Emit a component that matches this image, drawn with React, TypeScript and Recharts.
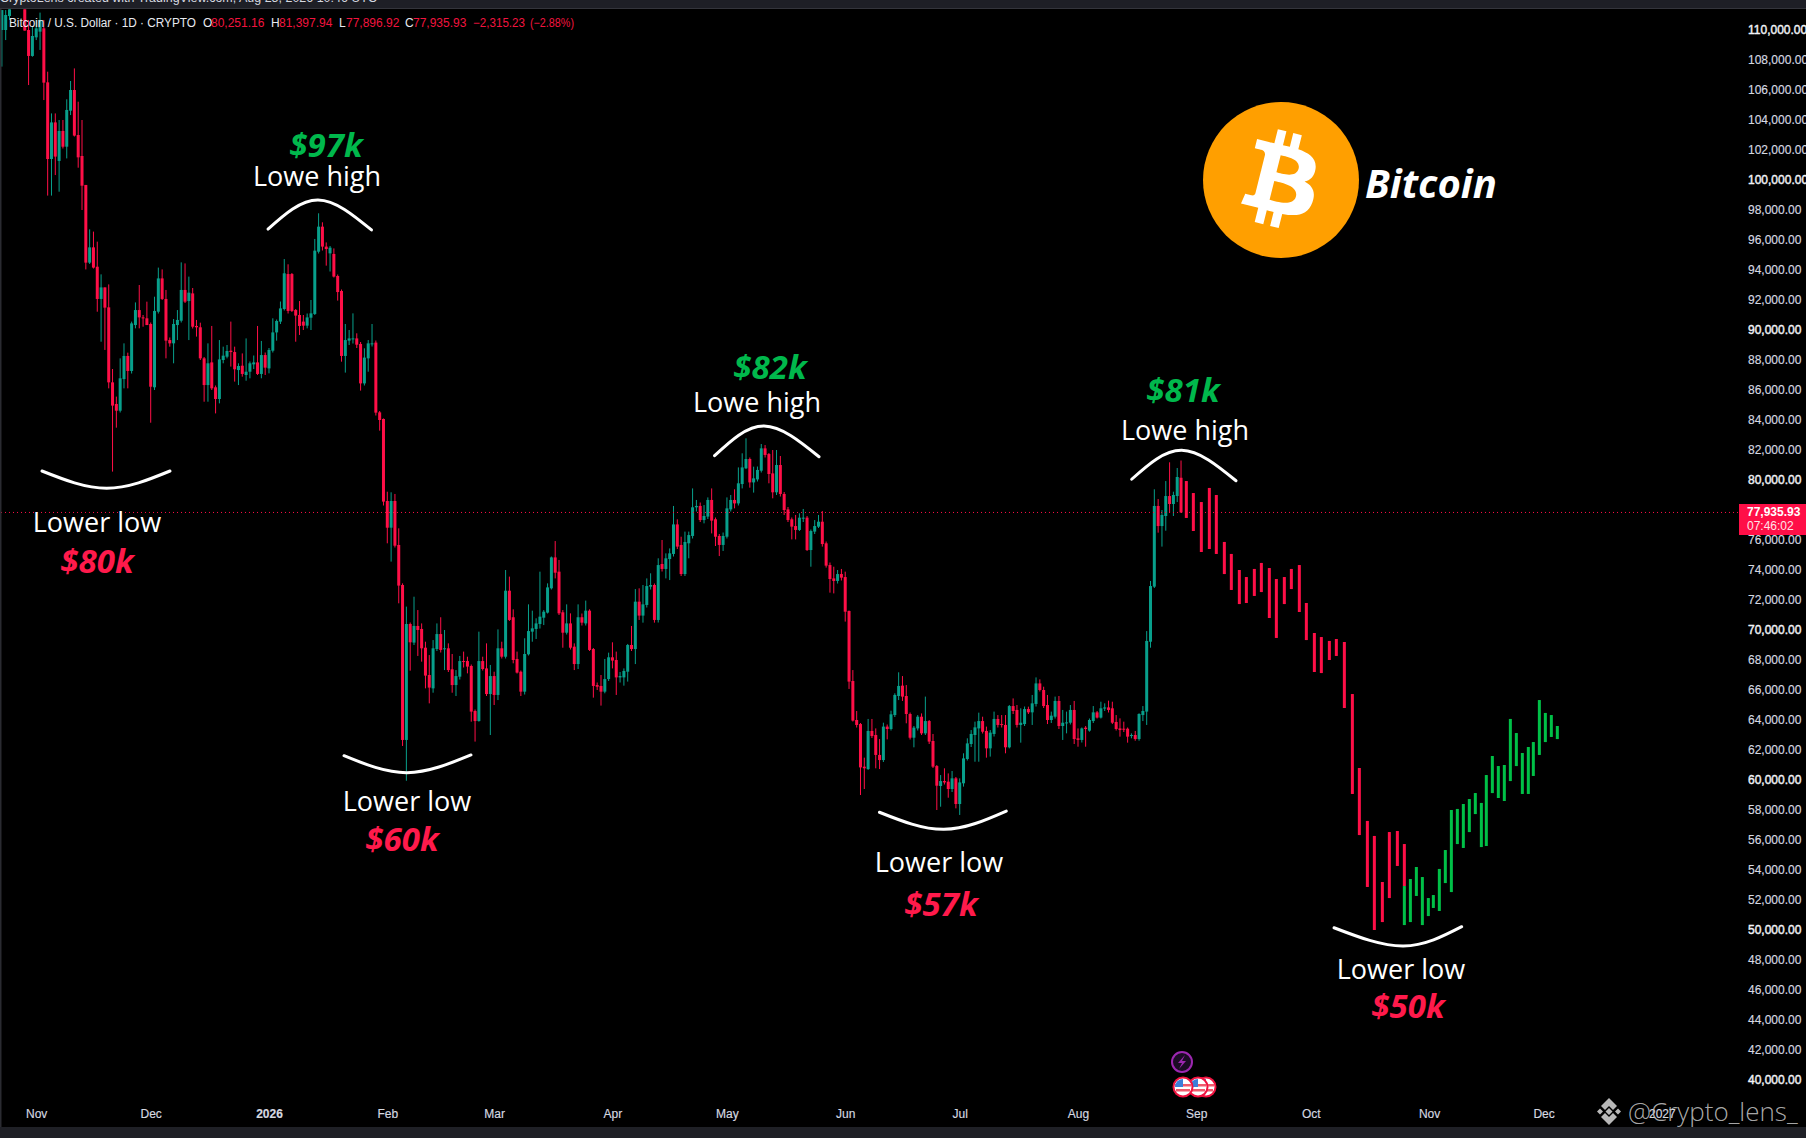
import { Bar, ComposedChart, Line, ReferenceLine, XAxis, YAxis } from 'recharts'

const WIDTH = 1806
const HEIGHT = 1138
const UP = '#089f8b'
const DOWN = '#ff0f47'
const BAR_UP = '#00c047'
const BODY_WIDTH = 3
const FONT = '"Liberation Sans", Arial, sans-serif'
const CALLOUT_FONT = '"Open Sans", sans-serif'

// thousands of dollars, [open, high, low, close], one candle a day
// null = candle is above the top of the visible price range
const FIRST_DAY = -70 // days from 1 Jan 2026
const candlesOctNov = [
  [110.1,111.43,107.66,111.43],[110.1,111.43,109.43,111.1],[111.03,111.48,110.77,111.48],null,null,null,
  [111.48,111.48,110.06,110.06],[110.1,110.77,106.43,108.37],[108.37,110.32,108.32,109.7],[109.61,110.77,109.43,110.21],
  [109.99,111.26,108.77,110.77],[110.21,110.77,105.43,106.59],[106.61,107.32,99.06,101.5],[101.5,104.54,99.06,103.94],
  [103.94,104.54,100.43,101.66],[101.37,104.1,99.32,103.37],[103.37,104.1,102.2,102.32],[102.32,105.48,101.54,104.77],
  [104.72,106.7,104.43,106.1],[106.1,107.54,103.0,103.06],[103.1,105.32,100.92,101.61],[101.7,104.1,98.1,99.72],
  [99.77,99.77,94.14,94.59],[94.59,96.81,94.5,95.61],[95.61,96.66,94.2,94.26],[94.32,95.99,91.32,92.17],
  [92.17,93.81,89.32,92.94],[92.94,92.94,88.77,91.59],[91.61,93.14,86.21,86.61],[86.61,87.5,80.66,85.06],
  [85.17,85.66,83.59,84.72],[84.72,88.21,84.6,86.88],[86.83,89.21,86.21,88.37],[88.37,88.59,86.21,87.37],
  [87.37,90.66,87.2,90.54],[90.43,91.94,90.21,91.43],[91.43,93.1,90.21,90.94],[90.94,91.1,90.32,90.88],
  [90.88,91.99,90.43,90.43],[90.5,90.6,83.92,86.32],[86.28,92.32,86.1,91.37],[91.32,94.26,91.2,93.54],
  [93.54,94.14,92.1,92.17],[92.17,92.77,88.21,89.39],[89.43,89.6,88.99,89.21],[89.21,90.83,87.88,90.5],
  [90.43,91.43,89.43,90.77],[90.72,94.61,90.6,92.77],[92.77,94.54,91.9,91.99],[92.03,93.66,89.43,92.59],
  [92.54,92.9,90.2,90.32],[90.37,90.77,89.66,90.28],[90.28,90.59,88.1,88.21],[88.21,88.3,85.32,86.43],
  [86.43,89.21,85.32,87.88],[87.94,90.37,86.1,86.21],[86.28,86.4,84.54,85.5],[85.5,89.43,85.21,88.14],
  [88.1,88.99,87.88,88.39],[88.32,89.1,88.21,88.7],[88.72,90.66,87.66,88.63],[88.63,88.99,86.66,87.48],
  [87.43,87.88,86.43,87.7],[87.72,88.54,86.99,87.17],[87.1,89.54,86.72,87.32],[87.32,88.0,86.88,87.88],
  [87.81,88.4,87.5,87.94],[87.94,90.37,87.1,87.17],[87.17,89.37,86.88,88.43],[88.43,88.6,87.1,87.59],
]
const candlesJanFeb = [
  [87.54,88.9,87.21,88.77],[88.72,90.88,88.6,89.94],[89.94,90.8,89.39,90.7],[90.66,92.0,90.5,91.54],
  [91.5,94.83,91.4,93.88],[93.83,94.48,91.2,91.37],[93.83,93.9,91.3,91.37],[91.43,91.5,89.32,91.06],
  [91.1,92.03,89.77,90.37],[90.66,91.1,90.1,90.39],[90.39,91.2,90.21,90.94],[90.92,92.1,90.1,91.21],
  [91.17,96.17,91.1,95.39],[95.32,97.88,95.2,96.99],[96.99,97.28,95.4,95.66],[95.66,95.94,94.39,95.5],
  [95.21,95.7,94.0,95.59],[95.17,95.54,93.6,93.66],[93.7,93.8,92.06,92.63],[92.7,92.8,87.99,88.37],
  [88.37,90.5,87.26,89.43],[89.39,90.1,89.1,89.54],[89.5,91.21,89.2,89.54],[89.54,89.88,88.9,89.12],
  [89.17,89.3,86.06,86.54],[86.54,88.88,86.4,88.26],[88.21,89.43,87.32,89.21],[89.17,90.5,89.0,89.21],
  [89.26,89.4,84.4,84.59],[84.61,84.7,83.39,84.1],[84.17,84.2,78.4,78.66],[78.7,79.32,75.88,76.92],
  [76.92,79.28,74.66,78.7],[78.7,79.17,75.6,75.72],[75.77,76.88,71.88,73.06],[73.1,73.21,62.37,62.77],
  [62.77,71.66,60.05,70.5],[70.5,70.6,67.39,69.28],[69.26,72.32,69.1,70.37],[70.37,71.43,68.37,70.1],
  [70.17,70.54,67.99,68.88],[68.92,69.32,66.21,67.06],[67.1,68.43,65.21,66.26],[66.21,69.43,65.92,68.88],
  [68.83,70.54,68.7,69.83],[69.83,70.95,68.6,68.77],[68.83,70.1,67.43,68.88],[68.88,69.21,67.3,67.43],
  [67.48,68.5,65.92,66.43],[66.43,67.43,65.7,67.03],[66.99,68.37,66.8,68.03],[68.03,68.66,67.6,67.99],
  [68.03,68.32,67.21,67.66],[67.7,67.8,63.99,64.66],[64.7,64.8,62.66,64.03],[64.03,69.99,63.99,68.03],
  [68.03,68.32,67.4,67.5],[67.54,69.21,65.7,65.83],[65.83,67.77,63.1,67.03],[67.03,67.32,65.1,65.77],
  [65.77,70.14,65.43,68.88],[68.88,69.32,68.2,68.32],
]
const candlesMarApr = [
  [68.32,74.1,68.2,72.72],[72.72,73.66,70.7,70.77],[70.95,71.48,67.88,68.1],[68.17,68.66,67.2,67.26],
  [67.32,67.4,65.7,65.99],[65.99,69.55,65.8,68.5],[68.48,71.81,68.4,70.03],[69.99,71.39,69.32,70.21],
  [70.17,70.88,69.5,70.54],[70.5,73.99,70.2,70.99],[70.92,71.43,70.43,71.32],[71.26,73.21,71.2,72.94],
  [72.88,75.0,72.8,74.94],[74.94,76.03,73.54,73.92],[73.99,74.77,71.1,71.21],[71.28,71.43,68.92,69.92],
  [69.92,71.81,69.8,70.54],[70.54,71.21,68.8,68.92],[68.99,69.21,67.43,67.83],[67.83,71.81,67.5,70.95],
  [70.95,71.2,70.4,70.59],[70.54,72.06,70.4,71.39],[71.39,71.48,68.7,68.77],[68.83,68.9,65.59,66.37],
  [66.43,66.6,66.1,66.32],[66.37,67.1,65.06,65.99],[65.99,68.17,65.88,66.83],[66.83,68.59,66.7,68.28],
  [68.28,69.28,67.54,68.06],[68.1,68.66,65.77,66.94],[66.94,67.3,66.6,67.03],[66.94,67.54,66.39,67.37],
  [67.32,69.17,66.66,69.1],[69.1,70.37,68.7,68.83],[68.83,72.83,67.83,71.99],[71.99,72.88,70.77,71.06],
  [71.06,73.1,70.59,71.81],[71.77,73.54,71.6,73.03],[72.99,73.88,72.8,73.1],[73.1,73.2,70.59,70.77],
  [70.77,74.88,70.6,74.43],[74.5,76.1,74.0,74.17],[74.17,75.21,73.54,74.88],[74.83,75.54,73.43,75.21],
  [75.17,78.37,75.0,77.14],[77.14,77.48,75.5,75.66],[75.77,76.32,73.7,73.83],[73.83,76.66,73.7,75.97],
  [75.88,76.66,74.88,76.43],[76.37,79.54,76.2,78.28],[78.28,78.77,78.0,78.37],[78.37,78.6,77.3,77.43],
  [77.43,78.43,77.21,77.7],[77.66,78.94,77.5,78.77],[78.77,79.54,76.54,77.39],[77.48,77.6,75.7,76.32],
  [76.37,76.5,75.03,75.77],[75.77,76.6,75.37,76.37],[76.32,78.94,76.2,78.21],[78.14,79.1,78.0,78.77],
]
const candlesMayJun = [
  [78.77,79.48,78.21,78.54],[78.54,80.94,78.4,79.88],[79.83,81.88,79.54,80.94],[80.88,82.88,80.83,81.5],
  [81.5,81.6,79.59,79.94],[79.94,80.99,79.26,80.21],[80.14,81.0,80.0,80.77],[80.72,82.5,80.6,82.21],
  [82.21,82.43,81.6,81.77],[81.83,81.9,79.88,80.5],[80.54,82.1,78.88,79.28],[79.28,82.1,79.1,81.1],
  [81.1,81.7,79.0,79.17],[79.17,79.3,77.77,78.1],[78.14,78.3,77.3,77.43],[77.48,77.6,76.14,76.99],
  [77.03,77.77,76.14,76.77],[76.77,77.88,76.7,77.59],[77.52,78.17,77.3,77.59],[77.59,77.7,75.37,75.43],
  [75.43,76.8,74.32,76.7],[76.66,77.43,76.5,77.03],[76.99,77.77,76.9,77.32],[77.32,78.03,75.66,75.83],
  [75.88,76.0,74.26,74.39],[74.43,74.6,72.59,73.5],[73.54,74.32,72.54,73.37],[73.37,74.1,73.2,73.83],
  [73.83,74.17,73.4,73.59],[73.63,73.99,70.66,71.32],[71.37,71.4,66.17,66.66],[66.7,67.43,64.0,64.06],
  [64.1,64.7,63.6,63.77],[63.83,63.9,59.1,60.94],[60.99,61.59,59.5,60.88],[60.83,64.17,60.77,63.37],
  [63.37,64.17,62.9,63.03],[63.1,63.54,60.88,61.77],[61.77,62.83,60.83,61.43],[61.43,63.92,61.3,63.66],
  [63.66,63.8,62.81,63.5],[63.5,64.72,63.4,64.48],[64.43,65.88,64.3,65.77],[65.7,67.28,65.43,66.37],
  [66.39,67.03,65.37,65.66],[65.7,66.43,63.88,64.5],[64.5,64.6,62.8,62.92],[62.92,63.7,62.28,63.59],
  [63.54,64.43,63.4,64.32],[64.32,64.54,63.1,63.21],[63.21,65.66,63.1,64.03],[64.03,64.1,62.5,62.66],
  [62.7,63.17,60.9,60.99],[61.03,61.1,58.1,59.72],[59.7,60.43,58.32,60.03],[60.03,60.88,59.8,59.94],
  [59.99,60.54,58.92,59.5],[59.5,60.7,59.3,60.21],[60.21,60.3,58.21,58.5],[58.5,60.21,57.77,59.94],
]
const candlesJulAug = [
  [59.88,61.88,59.66,61.54],[61.5,62.88,61.4,62.54],[62.5,63.43,62.3,63.17],[63.1,63.99,61.32,63.61],
  [63.54,64.59,61.32,64.03],[64.03,64.32,63.2,63.32],[63.37,63.66,61.59,62.21],[62.21,63.43,61.66,63.26],
  [63.17,64.66,63.0,64.17],[64.17,64.43,63.6,63.77],[63.83,64.43,63.6,63.77],[63.77,64.43,61.88,62.28],
  [62.28,65.1,62.21,65.03],[65.03,65.54,64.5,64.7],[64.77,65.1,63.6,63.77],[63.77,64.88,62.59,63.92],
  [63.83,65.0,63.7,64.83],[64.83,64.99,64.5,64.61],[64.61,65.77,63.77,65.21],[65.17,66.94,65.0,66.54],
  [66.54,66.81,66.0,66.1],[66.1,66.32,64.9,65.03],[65.1,65.77,63.83,64.1],[64.1,64.66,63.9,64.39],
  [64.32,65.66,64.2,65.37],[65.37,65.7,63.5,63.7],[63.7,64.77,62.77,63.92],[63.9,64.66,63.21,63.94],
  [63.92,65.1,63.8,64.77],[64.77,65.37,62.5,62.83],[62.88,63.54,62.32,62.77],[62.77,63.6,62.6,63.54],
  [63.59,63.7,62.32,63.5],[63.39,64.2,63.32,64.1],[64.03,65.03,63.9,64.61],[64.61,64.7,64.2,64.26],
  [64.26,65.32,64.2,64.88],[64.86,65.21,64.7,64.94],[64.94,65.39,64.6,64.77],[64.88,65.32,63.83,63.92],
  [63.97,64.43,63.4,63.5],[63.54,64.21,62.99,63.43],[63.52,63.99,63.3,63.46],[63.52,63.6,62.59,62.99],
  [63.03,63.21,62.88,63.1],[63.1,63.37,62.72,62.83],[62.83,64.55,62.72,64.5],[64.43,65.03,64.03,64.7],
  [64.66,70.03,63.77,69.37],[69.32,73.37,68.92,73.03],[72.99,79.48,72.9,78.37],[78.37,78.83,76.59,77.03],
  [77.03,78.1,75.66,77.77],[77.7,80.03,76.72,79.03],[79.03,81.28,77.92,78.5],[78.5,79.32,77.7,79.1],
  [79.03,80.9,78.63,80.3],[80.25,81.4,77.9,77.94],
]

// drawn projection after the last candle: [day, low, high], thousands of dollars
const fallingBars = [
  [240.39,77.57,80.03],[242.23,76.7,79.23],[244.32,75.3,78.63],[246.42,75.5,79.57],[248.25,75.17,79.1],
  [250.35,73.83,75.97],[252.18,72.77,75.17],[254.28,71.83,74.1],[256.12,71.9,73.63],[258.21,72.37,74.17],
  [260.05,72.63,74.57],[262.14,70.9,74.23],[263.98,69.57,73.5],[266.07,71.83,73.63],[267.91,72.83,74.17],
  [270.0,71.3,74.43],[271.84,69.43,71.9],[273.94,67.3,69.9],[275.77,67.23,69.63],[277.87,68.1,69.37],
  [279.7,68.37,69.5],[281.8,64.9,69.3],[283.9,59.17,65.83],[285.73,56.43,60.9],[287.83,52.97,57.37],
  [289.66,50.1,56.37],[291.76,50.63,53.3],[293.59,52.23,56.63],[295.69,54.37,56.7],[297.52,53.03,55.83],
]
const risingBars = [
  [297.52,50.43,53.03],[299.1,50.63,53.5],[300.67,52.37,54.3],[302.24,50.43,53.63],[303.81,51.03,52.23],
  [305.12,51.57,52.43],[306.69,51.37,54.17],[308.26,53.23,55.43],[309.84,52.63,58.1],[311.41,55.83,58.17],
  [312.98,55.57,58.5],[314.55,56.63,58.83],[316.12,57.83,59.23],[317.7,55.63,58.57],[319.0,55.7,60.43],
  [320.58,59.23,61.7],[322.15,58.9,61.03],[323.72,58.7,61.1],[325.3,60.03,64.17],[326.87,61.03,63.23],
  [328.44,59.17,61.9],[330.01,59.17,62.3],[331.32,60.37,62.63],[332.9,61.77,65.43],[334.47,62.63,64.57],
  [336.04,62.97,64.43],[337.61,62.83,63.7],
]

// the hand drawn arcs over each swing: [day, thousands of dollars]
const swingArcs = [
  [[-59.49,80.7],[-42.53,79.55],[-25.94,80.7]],
  [[-0.26,96.83],[12.84,98.77],[26.86,96.77]],
  [[19.65,61.72],[36.16,60.59],[52.94,61.77]],
  [[116.77,81.72],[129.72,83.7],[144.13,81.65]],
  [[159.96,57.95],[176.86,56.81],[193.21,58.03]],
  [[226.07,80.15],[239.18,82.08],[253.41,80.05]],
  [[279.09,50.25],[297.25,49.03],[312.55,50.32]],
]

// 78,000 sits behind the last price badge, so the axis leaves it out
const priceTicks = [
  40000, 42000, 44000, 46000, 48000, 50000, 52000, 54000, 56000, 58000, 60000, 62000,
  64000, 66000, 68000, 70000, 72000, 74000, 76000, 80000, 82000, 84000, 86000,
  88000, 90000, 92000, 94000, 96000, 98000, 100000, 102000, 104000, 106000, 108000, 110000,
]
const monthTickDays = [-61, -31, 0, 31, 59, 90, 120, 151, 181, 212, 243, 273, 304, 334, 365]
const monthTickLabels = ['Nov', 'Dec', '2026', 'Feb', 'Mar', 'Apr', 'May', 'Jun', 'Jul', 'Aug', 'Sep', 'Oct', 'Nov', 'Dec', '2027']

const lastPrice = 77935.93
const headerValues = ['80,251.16', '81,397.94', '77,896.92', '77,935.93']
const lowCallouts = ['$80k', '$60k', '$57k', '$50k']
const highCallouts = ['$97k', '$82k', '$81k']

const candleRows = [...candlesOctNov, ...candlesJanFeb, ...candlesMarApr, ...candlesMayJun, ...candlesJulAug]
  .map((c, i) =>
    c && {
      day: FIRST_DAY + i,
      range: [c[2] * 1000, c[1] * 1000],
      open: c[0] * 1000,
      close: c[3] * 1000,
      color: c[3] >= c[0] ? UP : DOWN,
    },
  )
  .filter(Boolean)

const barRow = (color: string) => (b: number[]) => ({
  day: b[0],
  range: [b[1] * 1000, b[2] * 1000],
  open: b[2] * 1000,
  close: b[1] * 1000,
  color,
})

const tableRows = [...candleRows, ...fallingBars.map(barRow(DOWN)), ...risingBars.map(barRow(BAR_UP))]

function CandleShape(props: any) {
  const { x, y, width, height, payload } = props
  const [low, high] = payload.range
  const top = Math.min(y, y + height)
  const middle = x + width / 2
  const perUnit = Math.abs(height) / (high - low)
  const bodyTop = top + (high - Math.max(payload.open, payload.close)) * perUnit
  const bodyHeight = Math.max(1, Math.abs(payload.open - payload.close) * perUnit)
  return (
    <g fill={payload.color}>
      <rect x={middle - 0.5} y={top} width={1} height={Math.abs(height)} />
      <rect x={middle - BODY_WIDTH / 2} y={bodyTop} width={BODY_WIDTH} height={bodyHeight} />
    </g>
  )
}

function PriceTick(props: any) {
  const { x, y, payload } = props
  const strong = payload.value % 10000 === 0
  return (
    <text
      x={x - 6}
      y={y - 2}
      dy="0.36em"
      fontFamily={FONT}
      fontSize={12}
      fill={strong ? '#f2f4f8' : '#d6d9e0'}
      stroke={strong ? '#f2f4f8' : '#d6d9e0'}
      strokeWidth={strong ? 0.4 : 0.15}
    >
      {payload.value.toLocaleString('en-US', { minimumFractionDigits: 2 })}
    </text>
  )
}

function MonthTick(props: any) {
  const { x, y, index } = props
  const label = monthTickLabels[index]
  return (
    <text
      x={x + 0.5}
      y={y + 1}
      dy="0.71em"
      textAnchor="middle"
      fontFamily={FONT}
      fontSize={12}
      fontWeight={label === '2026' ? 700 : 400}
      fill="#d6d9e0"
      stroke="#d6d9e0"
      strokeWidth={0.15}
    >
      {label}
    </text>
  )
}

function Callout({ x, y, text, color, big }: any) {
  return (
    <text
      x={x}
      y={big ? y - 1 : y - 1.5}
      textAnchor="middle"
      dominantBaseline="central"
      fontFamily={CALLOUT_FONT}
      fontSize={big ? 33 : 27}
      fontWeight={big ? 700 : 500}
      fontStyle={big ? 'italic' : 'normal'}
      fill={color}
    >
      {text}
    </text>
  )
}

function FlagBadge({ x, y }: { x: number; y: number }) {
  return (
    <g>
      <circle cx={x} cy={y} r={9.5} fill="#fff" stroke="#f0123f" strokeWidth={2} />
      <rect x={x - 8} y={y - 3} width={16} height={2.5} fill="#f05a6c" />
      <rect x={x - 7} y={y + 2} width={14} height={2.5} fill="#f05a6c" />
      <path d={`M${x - 8} ${y}a8 8 0 0 1 8 -8v8z`} fill="#3c7fd8" />
    </g>
  )
}

export default function App() {
  return (
    <div style={{ position: 'relative', width: WIDTH, height: HEIGHT, background: '#000', overflow: 'hidden' }}>
      <style>{'body{margin:0;background:#000}'}</style>
      <ComposedChart
        width={WIDTH}
        height={HEIGHT}
        data={tableRows}
        margin={{ top: 9, right: 0, bottom: 11, left: 0 }}
      >
        <XAxis
          dataKey="day"
          type="number"
          domain={[-70.49, 387.05]}
          ticks={monthTickDays}
          interval={0}
          height={27}
          axisLine={false}
          tickLine={false}
          tickMargin={2}
          tick={<MonthTick />}
        />
        <YAxis
          orientation="right"
          width={60}
          domain={[38767, 111500]}
          ticks={priceTicks}
          interval={0}
          axisLine={false}
          tickLine={false}
          tickMargin={2}
          tick={<PriceTick />}
        />
        <ReferenceLine y={lastPrice} stroke={DOWN} strokeDasharray="1 3" />
        <Bar dataKey="range" shape={<CandleShape />} isAnimationActive={false} />
        {swingArcs.map((arc, i) => (
          <Line
            key={i}
            data={arc.map((p) => ({ day: p[0], arc: p[1] * 1000 }))}
            dataKey="arc"
            type="natural"
            stroke="#fff"
            strokeWidth={3}
            strokeLinecap="round"
            dot={false}
            legendType="none"
            isAnimationActive={false}
          />
        ))}
      </ComposedChart>

      <svg width={WIDTH} height={HEIGHT} style={{ position: 'absolute', left: 0, top: 0, pointerEvents: 'none' }}>
        {/* window frame */}
        <rect x={0} y={0} width={WIDTH} height={8} fill="#1e1f26" />
        <rect x={0} y={8} width={WIDTH} height={1} fill="#34353c" />
        <rect x={0} y={1127} width={WIDTH} height={11} fill="#1f2026" />
        <rect x={0} y={9} width={1.5} height={1118} fill="#2a2b31" />
        <text x={0} y={2} fontFamily={FONT} fontSize={12} textLength={377} lengthAdjust="spacingAndGlyphs" fill="#d6d9e0">
          CryptoLens created with TradingView.com, Aug 25, 2026 10:46 UTC
        </text>

        {/* legend line */}
        <g fontFamily={FONT} fontSize={12} fill="#e8eaf0">
          <text x={9} y={27} textLength={187} lengthAdjust="spacingAndGlyphs">
            Bitcoin / U.S. Dollar · 1D · CRYPTO
          </text>
          <text x={203} y={27}>O</text>
          <text x={271} y={27}>H</text>
          <text x={339} y={27}>L</text>
          <text x={405} y={27}>C</text>
          <g fill="#f2143f">
            <text x={211} y={27}>{headerValues[0]}</text>
            <text x={279} y={27}>{headerValues[1]}</text>
            <text x={346} y={27}>{headerValues[2]}</text>
            <text x={413} y={27}>{headerValues[3]}</text>
            <text x={473} y={27} textLength={52} lengthAdjust="spacingAndGlyphs">−2,315.23</text>
            <text x={530} y={27} textLength={44} lengthAdjust="spacingAndGlyphs">(−2.88%)</text>
          </g>
        </g>

        {/* callouts */}
        <Callout x={97} y={523} text="Lower low" color="#fff" />
        <Callout x={97} y={561} text={lowCallouts[0]} color="#ff1a4b" big />
        <Callout x={326} y={145} text={highCallouts[0]} color="#00b84c" big />
        <Callout x={317} y={177} text="Lowe high" color="#fff" />
        <Callout x={407} y={802} text="Lower low" color="#fff" />
        <Callout x={402} y={839} text={lowCallouts[1]} color="#ff1a4b" big />
        <Callout x={770} y={367} text={highCallouts[1]} color="#00b84c" big />
        <Callout x={757} y={403} text="Lowe high" color="#fff" />
        <Callout x={939} y={863} text="Lower low" color="#fff" />
        <Callout x={941} y={904} text={lowCallouts[2]} color="#ff1a4b" big />
        <Callout x={1183} y={390} text={highCallouts[2]} color="#00b84c" big />
        <Callout x={1185} y={431} text="Lowe high" color="#fff" />
        <Callout x={1401} y={970} text="Lower low" color="#fff" />
        <Callout x={1408} y={1006} text={lowCallouts[3]} color="#ff1a4b" big />

        {/* logo */}
        <circle cx={1281} cy={180} r={78} fill="#ff9f00" />
        <g transform="translate(1203 102) scale(2.44)">
          <path
            fill="#fff"
            d="M46.11 27.441c.636-4.258-2.606-6.547-7.039-8.074l1.438-5.768-3.512-.875-1.4 5.616c-.922-.23-1.87-.447-2.812-.662l1.41-5.653-3.509-.875-1.439 5.766c-.764-.174-1.514-.346-2.242-.527l.004-.018-4.842-1.209-.934 3.75s2.605.597 2.55.634c1.422.355 1.68 1.296 1.636 2.042l-1.638 6.571c.098.025.225.061.365.117l-.37-.092-2.297 9.205c-.174.432-.615 1.08-1.609.834.035.051-2.552-.637-2.552-.637l-1.743 4.02 4.57 1.139c.85.213 1.683.436 2.502.646l-1.453 5.835 3.507.875 1.44-5.772c.957.26 1.887.5 2.797.726L27.504 50.8l3.511.875 1.453-5.823c5.987 1.133 10.49.676 12.383-4.738 1.527-4.36-.075-6.875-3.225-8.516 2.294-.531 4.022-2.04 4.483-5.157zM38.087 38.69c-1.086 4.36-8.426 2.004-10.807 1.412l1.928-7.729c2.38.594 10.011 1.77 8.88 6.317zm1.085-11.312c-.99 3.966-7.1 1.951-9.083 1.457l1.748-7.01c1.983.494 8.367 1.416 7.335 5.553z"
          />
        </g>
        <text x={1365} y={198} fontFamily={CALLOUT_FONT} fontSize={40} fontWeight={700} fontStyle="italic" fill="#fff">
          Bitcoin
        </text>

        {/* last price badge */}
        <rect x={1739} y={504} width={67} height={31} fill="#ff0f47" />
        <text x={1747} y={516} fontFamily={FONT} fontSize={12} fontWeight={700} fill="#fff">
          {lastPrice.toLocaleString('en-US')}
        </text>
        <text x={1747} y={530} fontFamily={FONT} fontSize={12} fill="#ffe3e8">
          07:46:02
        </text>

        {/* event badges */}
        <circle cx={1182} cy={1062} r={10} fill="#1a0b24" stroke="#9c27b0" strokeWidth={2} />
        <path d="M1185 1055l-7 8h4l-3 6 7-8h-4z" fill="#9c27b0" />
        <FlagBadge x={1206} y={1087} />
        <FlagBadge x={1198} y={1087} />
        <FlagBadge x={1183} y={1087} />

        {/* watermark */}
        <g fill="#b8b8b8">
          <path d="M1609 1098l8 8-4 4-4-4-4 4-4-4zM1609 1125l-8-8 4-4 4 4 4-4 4 4zM1609 1108l3.5 3.5-3.5 3.5-3.5-3.5zM1597 1111.5l3-3 3 3-3 3zM1615 1111.5l3-3 3 3-3 3z" />
        </g>
        <text x={1628} y={1121} fontFamily={CALLOUT_FONT} fontSize={26} fontWeight={300} fill="#bdbdbd" fillOpacity={0.9}>
          @Crypto_lens_
        </text>
      </svg>
    </div>
  )
}
